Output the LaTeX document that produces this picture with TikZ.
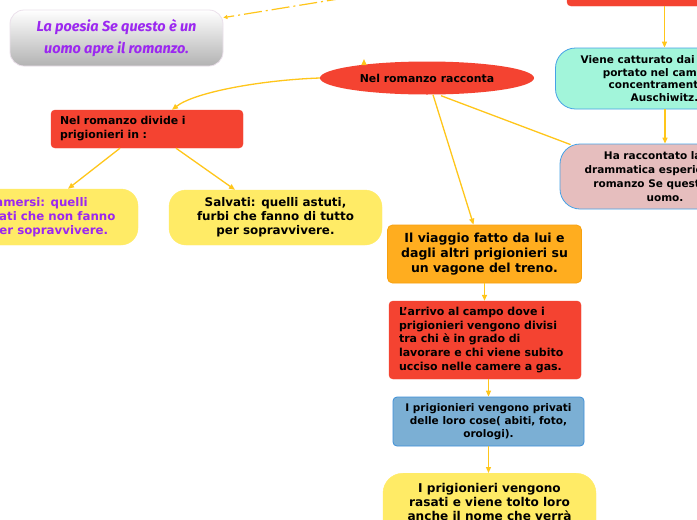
\documentclass[tikz,border=0pt]{standalone}
\usepackage{fontspec}
\setmainfont{DejaVu Sans}
\newfontfamily\titlefont{Fira Sans}
\usetikzlibrary{arrows.meta,shapes.geometric}
\definecolor{cred}{HTML}{F44331}
\definecolor{cyel}{HTML}{FFEB66}
\definecolor{cgold}{HTML}{FFC61A}
\definecolor{corange}{HTML}{FFAD1F}
\definecolor{corangeb}{HTML}{F7A10F}
\definecolor{ccyan}{HTML}{A2F5DA}
\definecolor{cbord}{HTML}{46A2E6}
\definecolor{cpink}{HTML}{E6BEBE}
\definecolor{cblue}{HTML}{7BAFD4}
\definecolor{cblueb}{HTML}{3D8FD8}
\definecolor{cpurple}{HTML}{9B27F0}
\definecolor{cgrayb}{HTML}{EBE0EB}
\tikzset{
  base/.style={inner sep=0pt, align=center, text=black,
    font=\fontsize{11}{14}\selectfont\bfseries},
  redbox/.style={base, fill=cred, draw=cred, rounded corners=4pt},
  ybox/.style={base, fill=cyel, draw=cyel, rounded corners=17pt},
  orbox/.style={base, fill=corange, draw=corangeb, line width=0.8pt, rounded corners=5pt},
  cybox/.style={base, fill=ccyan, draw=cbord, line width=0.8pt, rounded corners=20pt},
  pkbox/.style={base, fill=cpink, draw=cbord, line width=0.8pt, rounded corners=20pt},
  blbox/.style={base, fill=cblue, draw=cblueb, line width=0.8pt, rounded corners=4pt},
  titlebox/.style={inner sep=0pt, align=center, text=cpurple, draw=cgrayb, line width=0.8pt,
    top color=white, bottom color=black!30, rounded corners=14pt,
    font=\titlefont\fontsize{14.5}{22}\selectfont\bfseries\itshape},
  conn/.style={draw=cgold, line width=1.3pt, -{Triangle[length=6pt,width=5pt]}},
  plain/.style={draw=cgold, line width=1.3pt},
  dashconn/.style={draw=cgold, line width=1.2pt, dash pattern=on 18pt off 4pt on 2pt off 4pt,
    -{Triangle[length=4pt,width=4pt]}}
}
\begin{document}
\begin{tikzpicture}[x=1pt,y=-1pt]
\useasboundingbox (0,0) rectangle (697,520);
\fill[white] (0,0) rectangle (697,520);
\clip (0,0) rectangle (697,520);

\node[titlebox, minimum width=213pt, minimum height=56pt] (title) at (116.5,38)
  {La poesia Se questo è un\\ uomo apre il romanzo.};
\coordinate (dstart) at (400,-11);

\node[redbox, minimum width=226pt, minimum height=40pt] (topred) at (680,-14) {};

\node[cybox, minimum width=218pt, minimum height=61pt, font=\fontsize{10.5}{12.8}\selectfont\bfseries] (cyan) at (664.5,78.5)
  {Viene catturato dai nazisti e\\ portato nel campo di\\ concentramento di\\ Auschiwitz.};

\node[pkbox, minimum width=210pt, minimum height=65pt, font=\fontsize{10.5}{14}\selectfont\bfseries] (pink) at (665,176.5)
  {Ha raccontato la sua\\ drammatica esperienza nel\\ romanzo Se questo è un\\ uomo.};

\node[ellipse, fill=cred, inner sep=0pt, minimum width=214pt, minimum height=33pt,
  font=\fontsize{10.9}{12}\selectfont\bfseries] (ell) at (427,78) {Nel romanzo racconta};
\coordinate (tipc) at (364,59);

\node[redbox, minimum width=192pt, minimum height=38pt, text width=174pt, align=left,
  font=\fontsize{10.9}{14}\selectfont\bfseries] (divide) at (147,129)
  {Nel romanzo divide i\\ prigionieri in :};

\node[ybox, minimum width=214pt, minimum height=56pt, text=cpurple, font=\fontsize{11.8}{14}\selectfont\bfseries] (somm) at (31,217)
  {Sommersi: quelli\\ rassegnati che non fanno\\ nulla per sopravvivere.};

\node[ybox, minimum width=213pt, minimum height=55pt, font=\fontsize{11.9}{14}\selectfont\bfseries] (salv) at (275.5,217.5)
  {Salvati: quelli astuti,\\ furbi che fanno di tutto\\ per sopravvivere.};

\node[orbox, minimum width=194pt, minimum height=58pt, font=\fontsize{12.5}{15}\selectfont\bfseries] (viag) at (484.5,254)
  {Il viaggio fatto da lui e\\ dagli altri prigionieri su\\ un vagone del treno.};

\node[redbox, minimum width=192pt, minimum height=78pt, text width=172pt, align=left,
  font=\fontsize{11}{13.7}\selectfont\bfseries] (arrivo) at (485,340)
  {L'arrivo al campo dove i\\ prigionieri vengono divisi\\ tra chi è in grado di\\ lavorare e chi viene subito\\ ucciso nelle camere a gas.};

\node[blbox, minimum width=191pt, minimum height=49pt, font=\fontsize{10.5}{13}\selectfont\bfseries] (privati) at (488.5,421.5)
  {I prigionieri vengono privati\\ delle loro cose( abiti, foto,\\ orologi).};

\node[ybox, minimum width=213pt, minimum height=100pt, rounded corners=20pt, anchor=north] (b6) at (489.5,473) {};
\node[base, anchor=north, font=\fontsize{12.1}{14}\selectfont\bfseries] (b6t) at ([yshift=-10pt]b6.north)
  {I prigionieri vengono\\ rasati e viene tolto loro\\ anche il nome che verrà};

% connectors
\draw[dashconn] (dstart) -- ([yshift=-8pt]title.north east);
\draw[conn] (topred.south -| cyan.north) -- (cyan.north);
\draw[conn] (cyan.south -| pink.north) -- (pink.north);
\draw[conn] (ell.west) .. controls (262,80) and (195,92) .. ([xshift=25pt]divide.north);
\draw[conn] ([yshift=-5pt]tipc) -- (tipc);
\draw[conn] ([xshift=-27pt]divide.south) -- ([xshift=37pt]somm.north);
\draw[conn] ([xshift=29pt]divide.south) -- ([xshift=-40.5pt]salv.north);
\draw[conn] ([xshift=6pt]ell.south) -- ([xshift=-11pt]viag.north);
\draw[plain] ([xshift=14pt,yshift=-1pt]ell.south) -- ([xshift=11pt,yshift=-1pt]pink.north west);
\draw[conn] (viag.south) -- (viag.south |- arrivo.north);
\draw[conn] (privati.north |- arrivo.south) -- (privati.north);
\draw[conn] (privati.south) -- (privati.south |- b6.north);
\end{tikzpicture}
\end{document}
